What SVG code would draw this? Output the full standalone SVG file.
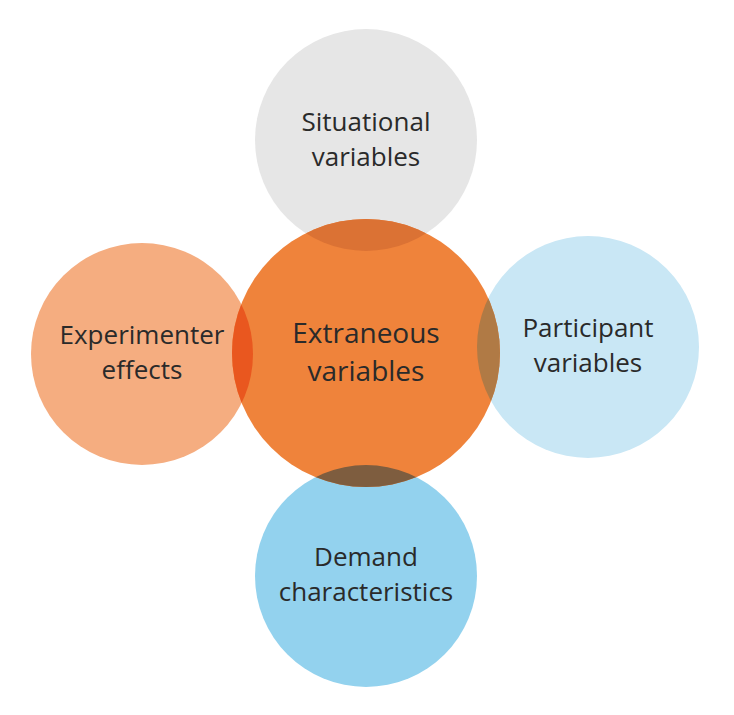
<svg xmlns="http://www.w3.org/2000/svg" width="734" height="715" viewBox="0 0 734 715">
<style>
text{font-family:"Open Sans",Lato,sans-serif;fill:#2a2a2a;text-anchor:middle;font-size:26px}
.c{font-size:28px;font-weight:500}
</style>
<defs>
<clipPath id="cc"><circle cx="366" cy="353" r="134"/></clipPath>
</defs>
<rect width="734" height="715" fill="#fff"/>
<g id="situational"><circle cx="366" cy="140" r="111" fill="#e6e6e6"/></g>
<g id="experimenter"><circle cx="142" cy="354" r="111" fill="#f5ad80"/></g>
<g id="participant"><circle cx="588" cy="347" r="111" fill="#c9e7f5"/></g>
<g id="demand"><circle cx="366" cy="576" r="111" fill="#93d2ee"/></g>
<g id="extraneous">
<circle cx="366" cy="353" r="134" fill="#ef833b"/>
<g clip-path="url(#cc)">
<circle cx="366" cy="140" r="111" fill="#db7234"/>
<circle cx="142" cy="354" r="111" fill="#e9571f"/>
<circle cx="588" cy="347" r="111" fill="#b07a45"/>
<circle cx="366" cy="576" r="111" fill="#7e5d3f"/>
</g>
</g>
<g id="labels">
<text x="366" y="131">Situational</text>
<text x="366" y="166">variables</text>
<text x="142" y="344">Experimenter</text>
<text x="142" y="379">effects</text>
<text x="588" y="337">Participant</text>
<text x="588" y="372">variables</text>
<text x="366" y="566">Demand</text>
<text x="366" y="601">characteristics</text>
<text class="c" x="366" y="343">Extraneous</text>
<text class="c" x="366" y="381">variables</text>
</g>
<g id="connectors"/>
</svg>
